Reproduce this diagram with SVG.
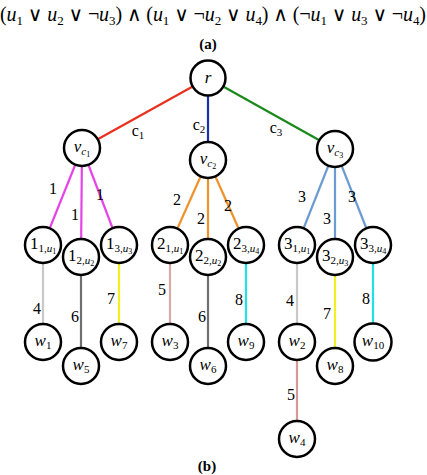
<svg xmlns="http://www.w3.org/2000/svg" width="427" height="475" viewBox="0 0 427 475">
<style>
.nd circle{fill:#fff;stroke:#000;stroke-width:2.5}
.cn line{stroke-width:2.2}
</style>
<rect width="427" height="475" fill="#fff"/>
<text x="0" y="21" font-size="20" font-family="Liberation Serif" textLength="426" lengthAdjust="spacing">(<tspan font-style="italic">u</tspan><tspan font-size="13" dy="4">1</tspan><tspan dy="-4"> </tspan><tspan font-family="DejaVu Sans">∨</tspan><tspan> </tspan><tspan font-style="italic">u</tspan><tspan font-size="13" dy="4">2</tspan><tspan dy="-4"> </tspan><tspan font-family="DejaVu Sans">∨</tspan><tspan> ¬</tspan><tspan font-style="italic">u</tspan><tspan font-size="13" dy="4">3</tspan><tspan dy="-4">) </tspan><tspan font-family="DejaVu Sans">∧</tspan><tspan> (</tspan><tspan font-style="italic">u</tspan><tspan font-size="13" dy="4">1</tspan><tspan dy="-4"> </tspan><tspan font-family="DejaVu Sans">∨</tspan><tspan> ¬</tspan><tspan font-style="italic">u</tspan><tspan font-size="13" dy="4">2</tspan><tspan dy="-4"> </tspan><tspan font-family="DejaVu Sans">∨</tspan><tspan> </tspan><tspan font-style="italic">u</tspan><tspan font-size="13" dy="4">4</tspan><tspan dy="-4">) </tspan><tspan font-family="DejaVu Sans">∧</tspan><tspan> (¬</tspan><tspan font-style="italic">u</tspan><tspan font-size="13" dy="4">1</tspan><tspan dy="-4"> </tspan><tspan font-family="DejaVu Sans">∨</tspan><tspan> </tspan><tspan font-style="italic">u</tspan><tspan font-size="13" dy="4">3</tspan><tspan dy="-4"> </tspan><tspan font-family="DejaVu Sans">∨</tspan><tspan> ¬</tspan><tspan font-style="italic">u</tspan><tspan font-size="13" dy="4">4</tspan><tspan dy="-4">)</tspan></text>
<text x="208" y="49" font-size="15" font-weight="bold" text-anchor="middle" font-family="Liberation Serif">(a)</text>
<text x="207" y="471" font-size="15" font-weight="bold" text-anchor="middle" font-family="Liberation Serif">(b)</text>
<g id="connectors" class="cn">
<line x1="208" y1="78" x2="82" y2="148" stroke="#e8321e"/>
<line x1="208" y1="78" x2="208" y2="160" stroke="#1a2fa8"/>
<line x1="208" y1="78" x2="335" y2="149" stroke="#1a8a1a"/>
<line x1="82" y1="148" x2="43" y2="245" stroke="#e545e8"/>
<line x1="82" y1="148" x2="81" y2="257" stroke="#e545e8"/>
<line x1="82" y1="148" x2="119" y2="245" stroke="#e545e8"/>
<line x1="208" y1="160" x2="170" y2="245" stroke="#f0922a"/>
<line x1="208" y1="160" x2="208" y2="257" stroke="#f0922a"/>
<line x1="208" y1="160" x2="246" y2="245" stroke="#f0922a"/>
<line x1="335" y1="149" x2="297" y2="245" stroke="#6b9bd2"/>
<line x1="335" y1="149" x2="335" y2="257" stroke="#6b9bd2"/>
<line x1="335" y1="149" x2="373" y2="245" stroke="#6b9bd2"/>
<line x1="43" y1="245" x2="43" y2="342" stroke="#c8c8c8"/>
<line x1="81" y1="257" x2="81" y2="366" stroke="#707070"/>
<line x1="119" y1="245" x2="119" y2="342" stroke="#f2f020"/>
<line x1="170" y1="245" x2="170" y2="342" stroke="#d8aaa8"/>
<line x1="208" y1="257" x2="208" y2="366" stroke="#707070"/>
<line x1="246" y1="245" x2="246" y2="342" stroke="#20e0e8"/>
<line x1="297" y1="245" x2="297" y2="342" stroke="#c8c8c8"/>
<line x1="335" y1="257" x2="335" y2="366" stroke="#f2f020"/>
<line x1="373" y1="245" x2="373" y2="342" stroke="#20e0e8"/>
<line x1="297" y1="342" x2="297" y2="439" stroke="#d89898"/>
<g font-size="16" text-anchor="middle" font-family="Liberation Serif">
<text x="138" y="136">c<tspan font-size="11" dy="3">1</tspan></text>
<text x="199" y="130">c<tspan font-size="11" dy="3">2</tspan></text>
<text x="276" y="133">c<tspan font-size="11" dy="3">3</tspan></text>
<text x="53" y="194">1</text>
<text x="75" y="220">1</text>
<text x="100" y="200">1</text>
<text x="177" y="205">2</text>
<text x="201" y="224">2</text>
<text x="228" y="211">2</text>
<text x="302" y="202">3</text>
<text x="327" y="224">3</text>
<text x="352" y="202">3</text>
<text x="37" y="314">4</text>
<text x="75" y="322">6</text>
<text x="111" y="304">7</text>
<text x="162" y="295">5</text>
<text x="202" y="322">6</text>
<text x="239" y="305">8</text>
<text x="290" y="306">4</text>
<text x="327" y="319">7</text>
<text x="366" y="304">8</text>
<text x="291" y="400">5</text>
</g>
</g>
<g class="nd" font-family="Liberation Serif" font-size="17" text-anchor="middle">
<g id="r"><circle cx="208" cy="78" r="17.5"/><text x="208" y="83" font-style="italic">r</text></g>
<g id="vc1"><circle cx="82" cy="148" r="18"/><text x="82" y="152"><tspan font-style="italic">v</tspan><tspan font-size="11" font-style="italic" dy="3">c</tspan><tspan font-size="8" dy="2">1</tspan></text></g>
<g id="vc2"><circle cx="208" cy="160" r="18"/><text x="208" y="164"><tspan font-style="italic">v</tspan><tspan font-size="11" font-style="italic" dy="3">c</tspan><tspan font-size="8" dy="2">2</tspan></text></g>
<g id="vc3"><circle cx="335" cy="149" r="18"/><text x="335" y="153"><tspan font-style="italic">v</tspan><tspan font-size="11" font-style="italic" dy="3">c</tspan><tspan font-size="8" dy="2">3</tspan></text></g>
<g id="n1_1"><circle cx="43" cy="245" r="18"/><text x="43" y="249">1<tspan font-size="11" dy="3">1,</tspan><tspan font-size="11" font-style="italic">u</tspan><tspan font-size="8" dy="2">1</tspan></text></g>
<g id="n1_2"><circle cx="81" cy="257" r="18"/><text x="81" y="261">1<tspan font-size="11" dy="3">2,</tspan><tspan font-size="11" font-style="italic">u</tspan><tspan font-size="8" dy="2">2</tspan></text></g>
<g id="n1_3"><circle cx="119" cy="245" r="18"/><text x="119" y="249">1<tspan font-size="11" dy="3">3,</tspan><tspan font-size="11" font-style="italic">u</tspan><tspan font-size="8" dy="2">3</tspan></text></g>
<g id="n2_1"><circle cx="170" cy="245" r="18"/><text x="170" y="249">2<tspan font-size="11" dy="3">1,</tspan><tspan font-size="11" font-style="italic">u</tspan><tspan font-size="8" dy="2">1</tspan></text></g>
<g id="n2_2"><circle cx="208" cy="257" r="18"/><text x="208" y="261">2<tspan font-size="11" dy="3">2,</tspan><tspan font-size="11" font-style="italic">u</tspan><tspan font-size="8" dy="2">2</tspan></text></g>
<g id="n2_3"><circle cx="246" cy="245" r="18"/><text x="246" y="249">2<tspan font-size="11" dy="3">3,</tspan><tspan font-size="11" font-style="italic">u</tspan><tspan font-size="8" dy="2">4</tspan></text></g>
<g id="n3_1"><circle cx="297" cy="245" r="18"/><text x="297" y="249">3<tspan font-size="11" dy="3">1,</tspan><tspan font-size="11" font-style="italic">u</tspan><tspan font-size="8" dy="2">1</tspan></text></g>
<g id="n3_2"><circle cx="335" cy="257" r="18"/><text x="335" y="261">3<tspan font-size="11" dy="3">2,</tspan><tspan font-size="11" font-style="italic">u</tspan><tspan font-size="8" dy="2">3</tspan></text></g>
<g id="n3_3"><circle cx="373" cy="245" r="18"/><text x="373" y="249">3<tspan font-size="11" dy="3">3,</tspan><tspan font-size="11" font-style="italic">u</tspan><tspan font-size="8" dy="2">4</tspan></text></g>
<g id="w1"><circle cx="43" cy="342" r="18"/><text x="43" y="346"><tspan font-style="italic">w</tspan><tspan font-size="11" dy="3">1</tspan></text></g>
<g id="w5"><circle cx="81" cy="366" r="18"/><text x="81" y="370"><tspan font-style="italic">w</tspan><tspan font-size="11" dy="3">5</tspan></text></g>
<g id="w7"><circle cx="119" cy="342" r="18"/><text x="119" y="346"><tspan font-style="italic">w</tspan><tspan font-size="11" dy="3">7</tspan></text></g>
<g id="w3"><circle cx="170" cy="342" r="18"/><text x="170" y="346"><tspan font-style="italic">w</tspan><tspan font-size="11" dy="3">3</tspan></text></g>
<g id="w6"><circle cx="208" cy="366" r="18"/><text x="208" y="370"><tspan font-style="italic">w</tspan><tspan font-size="11" dy="3">6</tspan></text></g>
<g id="w9"><circle cx="246" cy="342" r="18"/><text x="246" y="346"><tspan font-style="italic">w</tspan><tspan font-size="11" dy="3">9</tspan></text></g>
<g id="w2"><circle cx="297" cy="342" r="18"/><text x="297" y="346"><tspan font-style="italic">w</tspan><tspan font-size="11" dy="3">2</tspan></text></g>
<g id="w8"><circle cx="335" cy="366" r="18"/><text x="335" y="370"><tspan font-style="italic">w</tspan><tspan font-size="11" dy="3">8</tspan></text></g>
<g id="w10"><circle cx="373" cy="342" r="18.5"/><text x="373" y="346"><tspan font-style="italic">w</tspan><tspan font-size="11" dy="3">10</tspan></text></g>
<g id="w4"><circle cx="297" cy="439" r="18"/><text x="297" y="443"><tspan font-style="italic">w</tspan><tspan font-size="11" dy="3">4</tspan></text></g>
</g>
</svg>
